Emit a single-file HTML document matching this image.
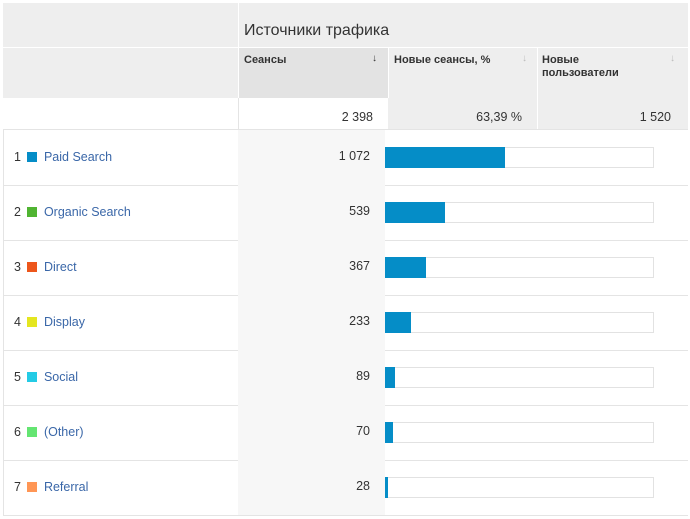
<!DOCTYPE html>
<html><head><meta charset="utf-8"><style>
body{margin:0;width:690px;height:519px;background:#fff;font-family:"Liberation Sans",sans-serif;overflow:hidden;position:relative}
.a{position:absolute}
.hd{font-size:11px;font-weight:bold;color:#333}
.arr{font-size:10px;color:#bbb}
.row{position:absolute;left:3px;width:685px;height:55px;border-bottom:1px solid #e4e4e4}
.lbl{position:absolute;left:11px;top:0;line-height:55px;font-size:12.5px;color:#333}
.lbl span.n{color:#1a5fa8;color:#3a67a8}
.sq{display:inline-block;width:10px;height:10px;margin:0 7px 0 6px;vertical-align:-1px}
.val{position:absolute;left:235px;width:147px;height:55px;background:#f7f7f7;text-align:right;line-height:53px;font-size:12.5px;color:#333;box-sizing:border-box;padding-right:15px}
</style></head><body>
<div class="a" style="left:3px;top:3px;width:685px;height:95px;background:#eeeeee"></div>
<div class="a" style="left:238px;top:3px;width:1px;height:95px;background:#fff"></div>
<div class="a" style="left:3px;top:47px;width:685px;height:1px;background:#fff"></div>
<div class="a" style="left:244px;top:22px;font-size:16px;color:#333">Источники трафика</div>
<div class="a" style="left:239px;top:48px;width:149px;height:50px;background:#e3e3e3"></div>
<div class="a hd" style="left:244px;top:54px">Сеансы</div>
<div class="a arr" style="left:372px;top:53px;color:#333">↓</div>
<div class="a" style="left:388px;top:48px;width:1px;height:82px;background:#fff"></div>
<div class="a hd" style="left:394px;top:54px">Новые сеансы, %</div>
<div class="a arr" style="left:522px;top:53px">↓</div>
<div class="a" style="left:537px;top:48px;width:1px;height:82px;background:#fff"></div>
<div class="a hd" style="left:542px;top:54px;line-height:13px">Новые<br>пользователи</div>
<div class="a arr" style="left:670px;top:53px">↓</div>
<div class="a" style="left:388px;top:98px;width:300px;height:32px;background:#eeeeee"></div>
<div class="a" style="left:537px;top:98px;width:1px;height:32px;background:#fff"></div>
<div class="a" style="left:238px;top:98px;width:1px;height:32px;background:#e4e4e4"></div>
<div class="a" style="left:238px;width:135px;top:110px;text-align:right;font-size:12.5px;color:#333">2 398</div>
<div class="a" style="left:388px;width:134px;top:110px;text-align:right;font-size:12.5px;color:#333">63,39 %</div>
<div class="a" style="left:537px;width:134px;top:110px;text-align:right;font-size:12.5px;color:#333">1 520</div>
<div class="a" style="left:3px;top:129px;width:685px;height:1px;background:#e4e4e4"></div>
<div class="a" style="left:3px;top:130px;width:1px;height:385px;background:#e4e4e4"></div>
<div id="rows"></div>
<script>
const categories=["Paid Search","Organic Search","Direct","Display","Social","(Other)","Referral"];
const sessions=[1072,539,367,233,89,70,28];
const sessionLabels=["1 072","539","367","233","89","70","28"];
const total=2398;
const colors=["#058dc7","#50b432","#ed561b","#e4e620","#24cbe5","#64e572","#ff9655"];
const barX=385,barW=269;
function xScale(v){return v/total*barW;}
const rows=document.getElementById('rows');
categories.forEach((c,i)=>{
 const r=document.createElement('div');r.className='row';r.style.top=(130+i*55)+'px';
 
 
 r.innerHTML=`<div class="lbl">${i+1}<span class="sq" style="background:${colors[i]}"></span><span class="n">${c}</span></div><div class="val">${sessionLabels[i]}</div>`;
 rows.appendChild(r);
 const lk=r.querySelector('.n');
 
 
 const v=r.querySelector('.val');
 
 
 const track=document.createElement('div');track.className='a';
 
 
 track.style.cssText=`left:${barX}px;top:${130+i*55+17}px;width:${barW}px;height:21px;border:1px solid #e2e2e2;box-sizing:border-box;background:#fff`;
 document.body.appendChild(track);
 const b=document.createElement('div');b.className='a';
 
 
 b.style.cssText=`left:${barX}px;top:${130+i*55+17}px;width:${Math.max(2,xScale(sessions[i]))}px;height:21px;background:#058dc7`;
 document.body.appendChild(b);
});
</script>
</body></html>
